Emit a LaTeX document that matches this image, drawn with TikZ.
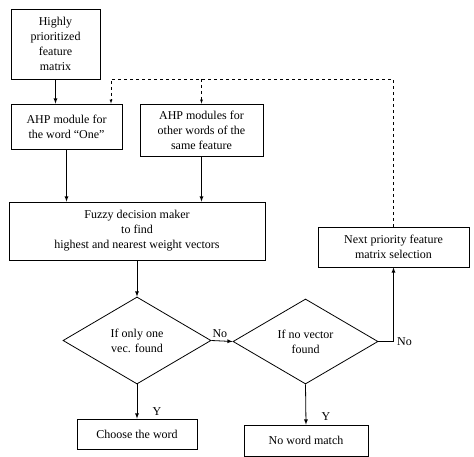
\documentclass[tikz,border=0pt]{standalone}
\usepackage{fontspec}
\setmainfont{Liberation Serif}
\usetikzlibrary{shapes.geometric}

\begin{document}
\begin{tikzpicture}[x=1pt,y=-1pt,font=\fontsize{12}{15}\selectfont,
  box/.style={draw,thick,align=center,inner sep=1pt},
  decision/.style={draw,thick,diamond,align=center,inner sep=0pt,aspect=1.7},
  flow/.style={thick,-latex}]
\useasboundingbox (0,0) rectangle (474,457);
\node [box,minimum width=89,minimum height=70] (prio) at (55.5,44) {Highly\\prioritized\\feature\\matrix};
\node [box,minimum width=111,minimum height=45] (ahpone) at (66.5,126.5) {AHP module for\\the word ``One''};
\node [box,minimum width=123,minimum height=52] (ahpother) at (201.5,130) {AHP modules for\\other words of the\\same feature};
\node [box,minimum width=256,minimum height=58] (fuzzy) at (137,231) {Fuzzy decision maker\\to find\\highest and nearest weight vectors};
\node [box,minimum width=151,minimum height=40] (next) at (393.5,247) {Next priority feature\\matrix selection};
\node [decision,minimum width=148,minimum height=87] (onevec) at (137,340.5) {If only one\\vec. found};
\node [decision,minimum width=145,minimum height=85] (novec) at (305.5,341.5) {If no vector\\found};
\node [box,minimum width=120,minimum height=30] (choose) at (137,434) {Choose the word};
\node [box,minimum width=124,minimum height=31] (nomatch) at (306,440.5) {No word match};
\coordinate (loop) at (111,79);
\draw[flow] (prio.south) -- (prio.south |- ahpone.north);
\draw[flow,dashed,thin] (next.north) |- (loop) -- (loop |- ahpone.north);
\draw[flow,dashed,thin] (ahpother.north |- loop) -- (ahpother.north);
\draw[flow] (ahpone.south) -- (ahpone.south |- fuzzy.north);
\draw[flow] (ahpother.south) -- (ahpother.south |- fuzzy.north);
\draw[flow] (fuzzy.south) -- (onevec.north);
\draw[flow] (onevec.east) -- node[above,pos=0.4]{No} (novec.west);
\draw[flow] (novec.east) -- (next.south |- novec.east) node[right]{No} -- (next.south);
\draw[flow] (onevec.south) -- node[right,pos=0.8,xshift=12pt]{Y} (choose.north);
\draw[flow] (novec.south) -- node[right,pos=0.8,xshift=12pt]{Y} (nomatch.north);
\end{tikzpicture}
\end{document}
